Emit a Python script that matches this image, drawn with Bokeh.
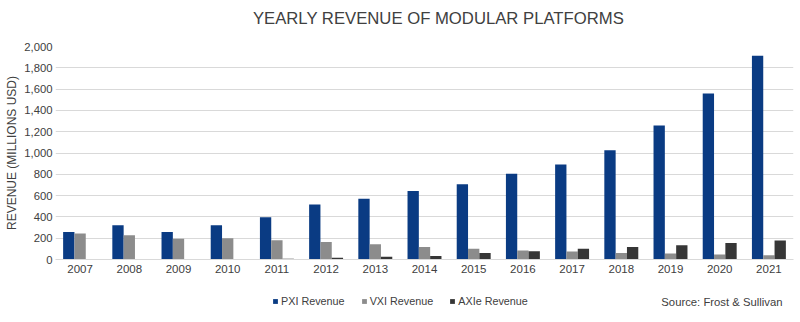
from bokeh.plotting import figure
from bokeh.layouts import column
from bokeh.models import (ColumnDataSource, Legend, LegendItem, Label, FixedTicker,
                          NumeralTickFormatter, Range1d)
from bokeh.transform import dodge
from bokeh.embed import file_html
from bokeh.resources import INLINE

years = ["2007", "2008", "2009", "2010", "2011", "2012", "2013", "2014",
         "2015", "2016", "2017", "2018", "2019", "2020", "2021"]
pxi = [259, 322, 259, 322, 397, 516, 570, 644, 707, 804, 892, 1026, 1258, 1559, 1912]
vxi = [244, 228, 194, 200, 181, 165, 144, 118, 100, 84, 75, 62, 56, 47, 40]
axie = [0, 0, 0, 0, 8, 16, 25, 34, 62, 78, 100, 118, 134, 156, 178]
y_ticks = list(range(0, 2001, 200))

title_text = "YEARLY REVENUE OF MODULAR PLATFORMS"
y_label = "REVENUE (MILLIONS USD)"
source_text = "Source: Frost & Sullivan"
series_names = ["PXI Revenue", "VXI Revenue", "AXIe Revenue"]
colors = ["#0a3b83", "#8c8c8c", "#363636"]

src = ColumnDataSource(dict(year=years, pxi=pxi, vxi=vxi, axie=axie))

FONT = "Liberation Sans"
TXT = "#404040"


def strip(h):
    f = figure(width=800, height=h, x_range=Range1d(0, 1), y_range=Range1d(0, 1),
               output_backend="svg", toolbar_location=None,
               x_axis_location=None, y_axis_location=None,
               min_border_left=55, min_border_right=7, min_border_top=0, min_border_bottom=0)
    f.outline_line_color = None
    f.xgrid.grid_line_color = None
    f.ygrid.grid_line_color = None
    return f


# top strip with the title
t = strip(34)
t.add_layout(Label(x=383, y=16, x_units="screen", y_units="screen", text=title_text,
                   text_align="center", text_baseline="middle", text_font=FONT,
                   text_font_size="16.7px", text_color=TXT))

p = figure(x_range=years, y_range=Range1d(0, 2000), width=800, height=251,
           output_backend="svg", toolbar_location=None,
           min_border_left=55, min_border_right=7, min_border_top=12, min_border_bottom=26)
p.x_range.range_padding = 0
p.outline_line_color = None

bw = 0.23
for col, off, c in zip(["pxi", "vxi", "axie"], [-bw, 0, bw], colors):
    p.vbar(x=dodge("year", off, range=p.x_range), top=col, width=bw, source=src,
           fill_color=c, line_color=None)

p.yaxis.ticker = FixedTicker(ticks=y_ticks)
p.yaxis.formatter = NumeralTickFormatter(format="0,0")
p.yaxis.axis_line_color = None
p.yaxis.major_tick_line_color = None
p.yaxis.minor_tick_line_color = None
p.yaxis.major_tick_out = 0
p.yaxis.major_tick_in = 0
p.yaxis.major_label_standoff = 3
p.yaxis.major_label_text_font = FONT
p.yaxis.major_label_text_font_size = "11.3px"
p.yaxis.major_label_text_color = TXT
p.yaxis.axis_label = y_label
p.yaxis.axis_label_text_font = FONT
p.yaxis.axis_label_text_font_style = "normal"
p.yaxis.axis_label_text_font_size = "12px"
p.yaxis.axis_label_text_color = TXT
p.yaxis.axis_label_standoff = 2

p.xaxis.axis_line_color = "#d9d9d9"
p.xaxis.major_tick_line_color = None
p.xaxis.minor_tick_line_color = None
p.xaxis.major_tick_out = 0
p.xaxis.major_tick_in = 0
p.xaxis.major_label_standoff = 5
p.xaxis.major_label_text_font = FONT
p.xaxis.major_label_text_font_size = "11.5px"
p.xaxis.major_label_text_color = TXT

p.xgrid.grid_line_color = None
p.ygrid.grid_line_color = "#d9d9d9"
p.ygrid.grid_line_width = 1

# bottom strip with legend and source note (frame aligned with the main frame)
b = strip(37)
items = []
for name, c in zip(series_names, colors):
    r = b.vbar(x=[-100], top=[0], bottom=[0], width=0, fill_color=c, line_color=None)
    items.append(LegendItem(label=name, renderers=[r]))

legend = Legend(items=items, orientation="horizontal", location=(217, 11),
                padding=0, margin=0, spacing=16, label_standoff=3,
                glyph_width=6, glyph_height=6, label_height=20,
                border_line_alpha=0, background_fill_alpha=0,
                label_text_font=FONT, label_text_font_size="10.8px",
                label_text_color=TXT)
b.add_layout(legend, "center")
b.add_layout(Label(x=727, y=21, x_units="screen", y_units="screen", text=source_text,
                   text_align="right", text_baseline="middle", text_font=FONT,
                   text_font_size="11.3px", text_color=TXT))

layout = column(t, p, b, spacing=0)
open("out.html", "w").write(file_html(layout, INLINE))
